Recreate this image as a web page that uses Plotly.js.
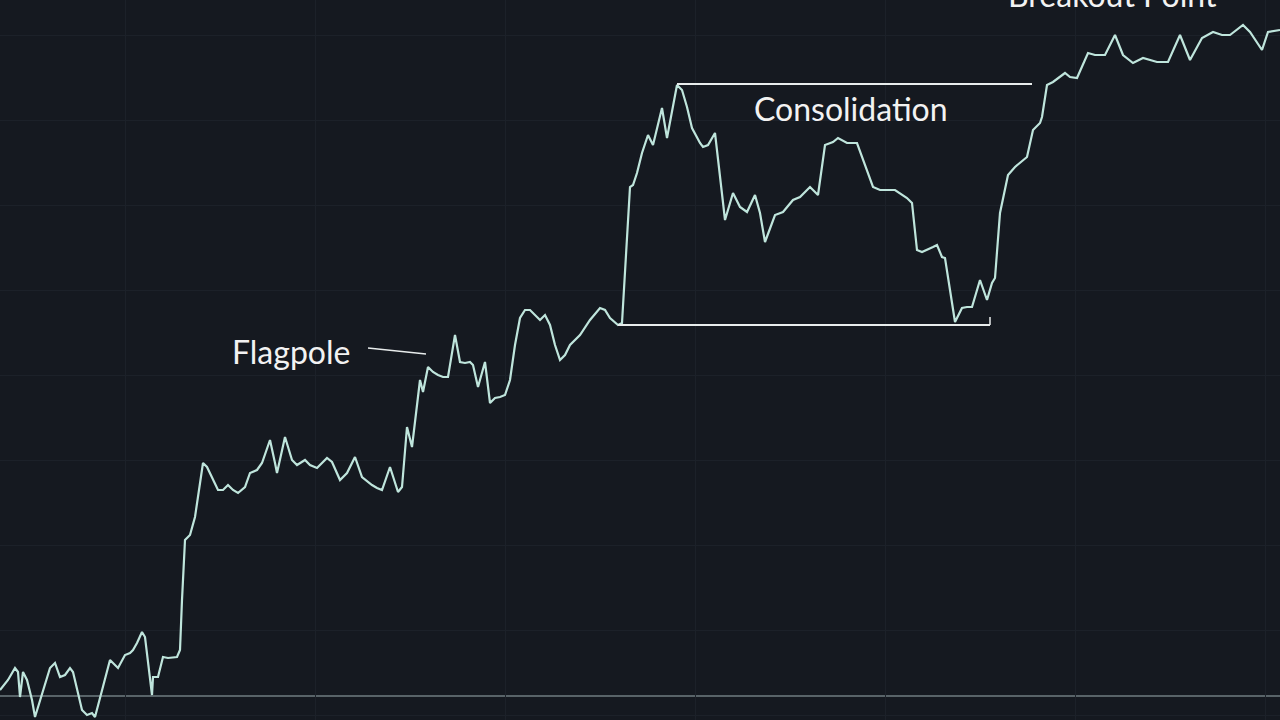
<!DOCTYPE html>
<html><head><meta charset="utf-8">
<script src="https://cdn.plot.ly/plotly-3.0.1.min.js"></script>
<style>html,body{margin:0;padding:0;background:#151920;}#c{width:1280px;height:720px;}</style>
</head><body><div id="c"></div>
<script>
// time index (session) and price level
const t = [0,5,8,15,18,20,23,27,32,35,50,55,60,65,70,73,82,87,92,95,110,118,125,130,133,137,142,145,152,153,158,163,168,177,180,182,185,190,195,203,207,218,223,228,233,238,245,250,257,262,270,275,277,285,292,297,305,310,317,327,332,340,347,355,362,372,377,382,390,398,402,407,412,420,423,428,433,438,443,448,455,460,465,470,473,478,485,490,495,500,505,510,515,520,525,530,540,545,550,555,560,565,570,580,590,600,605,610,618,622,630,633,637,642,648,653,662,667,672,677,682,687,692,700,703,708,715,718,725,733,740,747,755,760,765,775,783,793,800,810,818,825,833,838,847,857,863,873,880,895,907,912,917,922,933,937,942,945,950,955,962,967,972,980,987,992,995,1000,1008,1015,1027,1033,1040,1042,1047,1053,1065,1070,1077,1088,1095,1105,1115,1123,1133,1143,1157,1168,1180,1190,1202,1213,1222,1230,1243,1250,1262,1268,1280];
const pxY = [690,683,680,668,672,697,672,680,700,717,668,663,677,675,668,672,710,715,713,717,660,668,655,653,650,643,632,637,695,677,677,657,658,657,650,600,540,535,517,463,467,490,490,485,490,493,487,473,470,463,440,463,473,437,460,465,460,465,468,458,462,480,473,457,477,485,488,490,467,492,487,427,447,380,392,367,372,375,377,377,335,362,363,362,365,387,362,403,398,397,395,380,345,318,310,310,320,315,325,345,360,355,345,335,320,308,310,318,325,323,187,185,173,153,135,145,108,138,110,85,90,107,128,143,147,145,133,160,220,193,207,212,195,213,242,215,212,200,197,187,195,145,142,138,143,143,160,187,190,190,198,203,250,252,247,245,257,258,290,322,308,307,307,280,300,283,278,213,175,167,157,130,123,117,85,82,73,77,78,53,55,55,35,55,63,58,62,62,35,60,38,32,35,35,25,32,50,32,30];
const price = pxY.map(v => 720 - v);

// annotation levels
const consTop = 636, consBottom = 395;
const consTopRange = [677, 1032];
const consBottomRange = [618, 990];
const baseLevel = 24;
const flagpoleLine = [[368, 372], [426, 366]];
const labels = ["Flagpole", "Consolidation", "Breakout Point"];

const trace = {
  x: t, y: price, type: 'scatter', mode: 'lines',
  line: {color: '#bfe5dc', width: 2.2, shape: 'linear'},
  hoverinfo: 'skip'
};

const lineCol = '#e8ecec';
const fnt = {family: 'Lato, sans-serif', size: 32, color: '#f2f2f2'};
const layout = {
  width: 1280, height: 720,
  margin: {l: 0, r: 0, t: 0, b: 0},
  paper_bgcolor: '#151920', plot_bgcolor: '#151920',
  showlegend: false,
  xaxis: {range: [0, 1280], showticklabels: false, zeroline: false, showline: false,
          showgrid: true, gridcolor: '#1c2129', gridwidth: 1, tick0: 125, dtick: 190},
  yaxis: {range: [0, 720], showticklabels: false, zeroline: false, showline: false,
          showgrid: true, gridcolor: '#1c2129', gridwidth: 1, tick0: 90, dtick: 85},
  shapes: [
    {type: 'line', xref: 'paper', x0: 0, x1: 1, yref: 'y', y0: baseLevel, y1: baseLevel,
     line: {color: '#6f7c80', width: 1.5}, layer: 'below'},
    {type: 'line', x0: consTopRange[0], x1: consTopRange[1], y0: consTop, y1: consTop,
     line: {color: lineCol, width: 2}},
    {type: 'line', x0: consBottomRange[0], x1: consBottomRange[1], y0: consBottom, y1: consBottom,
     line: {color: lineCol, width: 2}},
    {type: 'line', x0: consBottomRange[1], x1: consBottomRange[1], y0: consBottom, y1: consBottom + 8,
     line: {color: lineCol, width: 1.5}},
    {type: 'line', x0: flagpoleLine[0][0], x1: flagpoleLine[1][0], y0: flagpoleLine[0][1], y1: flagpoleLine[1][1],
     line: {color: lineCol, width: 1.5}}
  ],
  annotations: [
    {x: 291, y: 369, xref: 'x', yref: 'y', text: labels[0], showarrow: false,
     font: fnt, xanchor: 'center', yanchor: 'middle'},
    {x: 851, y: 612, xref: 'x', yref: 'y', text: labels[1], showarrow: false,
     font: fnt, xanchor: 'center', yanchor: 'middle'},
    {x: 1112, y: 1.007, xref: 'x', yref: 'paper', text: labels[2], showarrow: false,
     font: fnt, xanchor: 'center', yanchor: 'middle'}
  ]
};

Plotly.newPlot('c', [trace], layout, {staticPlot: true, displayModeBar: false});
</script></body></html>
